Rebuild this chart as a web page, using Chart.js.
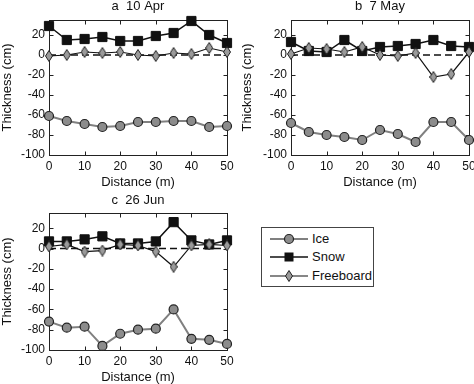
<!DOCTYPE html>
<html><head><meta charset="utf-8">
<script src="https://cdn.jsdelivr.net/npm/chart.js@4.4.1/dist/chart.umd.min.js"></script>
<style>
html,body{margin:0;padding:0;background:#fff;overflow:hidden;width:474px;height:384px;position:relative;}
canvas{position:absolute;display:block;}
#legend{position:absolute;left:261px;top:227px;width:113px;height:60px;border:1px solid #444;box-sizing:border-box;font:13px "Liberation Sans",Arial,sans-serif;color:#111;background:#fff;}
#legend .row{position:absolute;left:0;height:18px;width:112px;}
#legend svg{position:absolute;left:0;top:0;}
#legend span{position:absolute;left:50px;top:1px;line-height:16px;}
</style></head><body>
<canvas id="ca" width="240" height="190" style="left:0;top:0"></canvas>
<canvas id="cb" width="245" height="190" style="left:237px;top:0"></canvas>
<canvas id="cc" width="240" height="194" style="left:0;top:190px"></canvas>
<div id="legend"></div>
<script>
// ---- data ----
const distance = [0,5,10,15,20,25,30,35,40,45,50];
const xTicks = [0,10,20,30,40,50];
const yTicks = [-100,-80,-60,-40,-20,0,20];
const seriesNames = ['Ice','Snow','Freeboard'];
const panelTitles = ['a  10 Apr','b  7 May','c  26 Jun'];

const iceA  = [-61,-66,-69,-72,-71,-67,-67,-66,-66,-72,-71];
const snowA = [29,15,16,18,14,14,19,22,34,20,12];
const freeA = [-1,0,3,2,3,0,-1,2,1,7,3];

const iceB  = [-68,-77,-80,-82,-85,-75,-79,-87,-67,-67,-85];
const snowB = [13,4,3,15,4,8,9,11,15,9,8];
const freeB = [1,7,6,3,8,0,-1,2,-22,-19,3];

const iceC  = [-72,-78,-77,-96,-84,-80,-79,-60,-89,-90,-94];
const snowC = [7,7,9,12,5,5,7,26,8,4,8];
const freeC = [2,4,-3,-2,4,3,-3,-18,3,4,3];

// ---- styles ----
const ICE_LINE = '#808080', ICE_FILL = '#8c8c8c', DARK = '#111', EDGE = '#222';
Chart.defaults.font.family = '"Liberation Sans", Arial, Helvetica, sans-serif';
Chart.defaults.color = '#111';

function makeDiamond(){
  const c = document.createElement('canvas'); c.width = 8; c.height = 12;
  const g = c.getContext('2d');
  g.beginPath(); g.moveTo(4,0.5); g.lineTo(7.5,6); g.lineTo(4,11.5); g.lineTo(0.5,6); g.closePath();
  g.fillStyle = '#9a9a9a'; g.fill(); g.strokeStyle = EDGE; g.lineWidth = 1; g.stroke();
  return c;
}
const diamond = makeDiamond();
const pts = vals => distance.map((d,i) => ({x:d, y:vals[i]}));

const frame = {
  id:'frame',
  beforeDatasetsDraw(chart){
    const {ctx, chartArea:a, scales:{x, y}} = chart;
    ctx.save();
    ctx.strokeStyle = EDGE; ctx.lineWidth = 1;
    const L = Math.round(a.left)+0.5, R = Math.round(a.right)+0.5, T = Math.round(a.top)+0.5, B = Math.round(a.bottom)+0.5;
    ctx.strokeRect(L, T, R-L, B-T);
    ctx.beginPath();
    xTicks.forEach(v => { const p = Math.round(x.getPixelForValue(v))+0.5; ctx.moveTo(p,B); ctx.lineTo(p,B-4); ctx.moveTo(p,T); ctx.lineTo(p,T+4); });
    yTicks.forEach(v => { const p = Math.round(y.getPixelForValue(v))+0.5; ctx.moveTo(L,p); ctx.lineTo(L+4,p); ctx.moveTo(R,p); ctx.lineTo(R-4,p); });
    ctx.stroke();
    ctx.restore();
  }
};

const noGrid = {display:false, drawTicks:false, tickLength:0};

function makeChart(id, title, ice, snow, free, L){
  return new Chart(document.getElementById(id), {
    type:'line',
    data:{datasets:[
      {label:seriesNames[0], data:pts(ice), borderColor:ICE_LINE, borderWidth:2, pointStyle:'circle', pointRadius:4.5,
       pointBackgroundColor:ICE_FILL, pointBorderColor:EDGE, pointBorderWidth:1.2, order:2, clip:false},
      {label:seriesNames[1], data:pts(snow), borderColor:DARK, borderWidth:1.5, pointStyle:'rect', pointRadius:6.5,
       pointBackgroundColor:DARK, pointBorderColor:DARK, pointBorderWidth:1, order:1, clip:false},
      {label:seriesNames[2], data:pts(free), borderColor:DARK, borderWidth:1.2, pointStyle:diamond, pointRadius:5, order:0, clip:false},
      {label:'zero', data:[{x:distance[0],y:0},{x:distance[distance.length-1],y:0}], borderColor:DARK, borderWidth:1.5,
       borderDash:[7,4], pointRadius:0, order:3}
    ]},
    options:{
      responsive:false, animation:false, events:[],
      layout:{padding:{left:L.padLeft, right:L.padRight, top:0, bottom:0}},
      plugins:{legend:{display:false}, tooltip:{enabled:false}},
      scales:{
        x:{type:'linear', position:'bottom', min:0, max:50,
           grid:noGrid, border:{display:false},
           afterBuildTicks:s => { s.ticks = xTicks.map(v => ({value:v})); },
           ticks:{padding:4, font:{size:12}, maxRotation:0, autoSkip:false},
           title:{display:true, text:'Distance (m)', font:{size:13, lineHeight:L.xTitleLH}, padding:0},
           afterFit:s => { s.height = L.xH; }},
        x2:{type:'linear', position:'top', min:0, max:50,
           grid:noGrid, border:{display:false}, ticks:{display:false},
           title:{display:true, text:title, font:{size:13, lineHeight:1}, padding:{top:L.tPad, bottom:0}},
           afterFit:s => { s.height = L.topH; }},
        y:{type:'linear', position:'left', min:-100, max:35,
           grid:noGrid, border:{display:false},
           afterBuildTicks:s => { s.ticks = yTicks.map(v => ({value:v})); },
           ticks:{padding:4, font:{size:12}, autoSkip:false},
           title:{display:true, text:'Thickness (cm)', font:{size:13}, padding:0},
           afterFit:s => { s.width = L.yW; }}
      }
    },
    plugins:[frame]
  });
}

makeChart('ca', panelTitles[0], iceA, snowA, freeA, {padLeft:0, padRight:13, yW:49, xH:35, topH:20, tPad:0, xTitleLH:1.2});
makeChart('cb', panelTitles[1], iceB, snowB, freeB, {padLeft:3, padRight:13, yW:51, xH:35, topH:20, tPad:0, xTitleLH:1.2});
makeChart('cc', panelTitles[2], iceC, snowC, freeC, {padLeft:0, padRight:13, yW:49, xH:34, topH:23, tPad:3.5, xTitleLH:1});

// ---- legend ----
const markers = [
  `<line x1="8" y1="9" x2="46" y2="9" stroke="${ICE_LINE}" stroke-width="2"/><circle cx="27" cy="9" r="4.5" fill="${ICE_FILL}" stroke="${EDGE}" stroke-width="1.2"/>`,
  `<line x1="8" y1="9" x2="46" y2="9" stroke="${DARK}" stroke-width="1.5"/><rect x="22.5" y="4.5" width="9" height="9" fill="${DARK}"/>`,
  `<line x1="8" y1="9" x2="46" y2="9" stroke="${DARK}" stroke-width="1.2"/><polygon points="27,3.5 30.5,9 27,14.5 23.5,9" fill="#9a9a9a" stroke="${EDGE}" stroke-width="1"/>`
];
const rowTops = [2, 20, 39];
const leg = document.getElementById('legend');
seriesNames.forEach((n,i) => {
  const r = document.createElement('div'); r.className = 'row'; r.style.top = rowTops[i] + 'px';
  r.innerHTML = `<svg width="50" height="18">${markers[i]}</svg><span>${n}</span>`;
  leg.appendChild(r);
});
</script>
</body></html>
